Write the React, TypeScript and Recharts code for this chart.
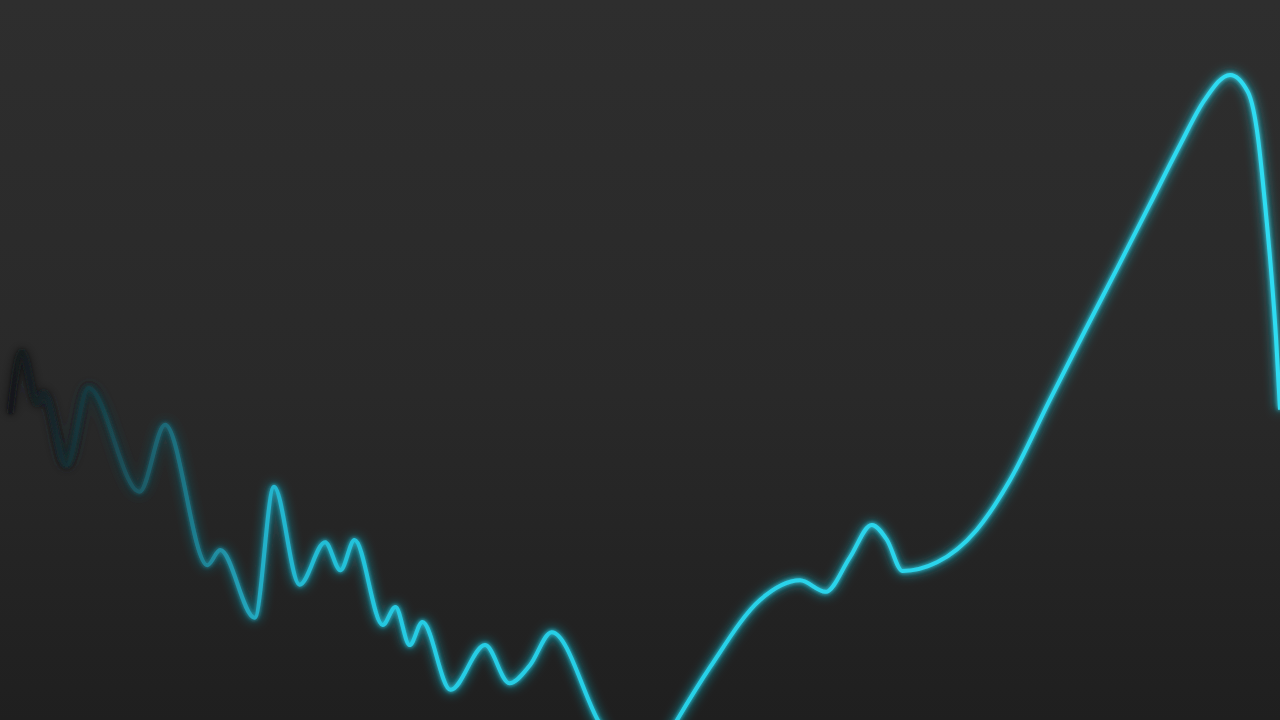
import { LineChart, Line, XAxis, YAxis } from 'recharts'

// time (0-100) and level (0-100)
const times = [
  0.8, 1.7, 2.9, 3.4, 5.2, 6.9, 10.9, 12.9, 16.2, 17.2, 19.9, 21.4, 23.4, 25.4, 26.6, 27.7,
  29.9, 30.9, 32.0, 33.0, 35.2, 37.9, 39.8, 41.4, 43.1, 46.7, 49.8, 52.9, 55.5, 59.4, 62.5,
  64.5, 66.4, 68.1, 69.3, 70.5, 73.2, 76.3, 78.9, 82.0, 84.8, 87.3, 89.8, 92.2, 94.1, 96.1,
  97.5, 98.3, 98.8, 99.3, 99.7, 100
]
const levels = [
  42.6, 51.1, 44.0, 45.4, 35.4, 46.1, 31.7, 41.0, 21.5, 23.6, 14.2, 32.4, 18.8, 24.7, 20.8, 25.0,
  13.2, 15.7, 10.4, 13.6, 4.2, 10.4, 5.1, 7.6, 12.2, 0, -9.7, 0, 7.4, 16.7, 19.4,
  17.8, 22.6, 27.1, 25.0, 20.7, 21.9, 26.4, 33.3, 44.4, 54.2, 62.8, 71.5, 79.9, 86.1, 89.6,
  87.2, 80.6, 72.2, 62.5, 52.8, 43.1
]

const data = times.map((t, i) => ({ t, v: levels[i] }))

export default function App() {
  return (
    <div
      style={{
        width: 1280,
        height: 720,
        background: 'linear-gradient(to bottom, #2e2e2e 0%, #292929 55%, #1f1f1f 100%)'
      }}
    >
      <style>{'body{margin:0;overflow:hidden}'}</style>
      <LineChart width={1280} height={720} data={data} margin={{ top: 0, right: 0, bottom: 0, left: 0 }}>
        <defs>
          <linearGradient id='fade' gradientUnits='userSpaceOnUse' x1={0} y1={0} x2={1280} y2={0}>
            <stop offset='0%' stopColor='#121416' />
            <stop offset='4%' stopColor='#15262a' />
            <stop offset='9%' stopColor='#1a4a53' />
            <stop offset='14%' stopColor='#1e7282' />
            <stop offset='21%' stopColor='#22b4cd' />
            <stop offset='32%' stopColor='#25cce4' />
            <stop offset='100%' stopColor='#2edcf2' />
          </linearGradient>
          <filter id='glow' x='-10%' y='-10%' width='120%' height='120%'>
            <feGaussianBlur in='SourceGraphic' stdDeviation='6' result='wide' />
            <feGaussianBlur in='SourceGraphic' stdDeviation='2' result='tight' />
            <feMerge>
              <feMergeNode in='wide' />
              <feMergeNode in='tight' />
              <feMergeNode in='SourceGraphic' />
            </feMerge>
          </filter>
        </defs>
        <XAxis dataKey='t' type='number' domain={[0, 100]} hide allowDataOverflow />
        <YAxis type='number' domain={[0, 100]} hide allowDataOverflow />
        <Line
          type='monotone'
          dataKey='v'
          stroke='url(#fade)'
          strokeWidth={4}
          dot={false}
          activeDot={false}
          filter='url(#glow)'
          isAnimationActive={false}
        />
      </LineChart>
    </div>
  )
}
